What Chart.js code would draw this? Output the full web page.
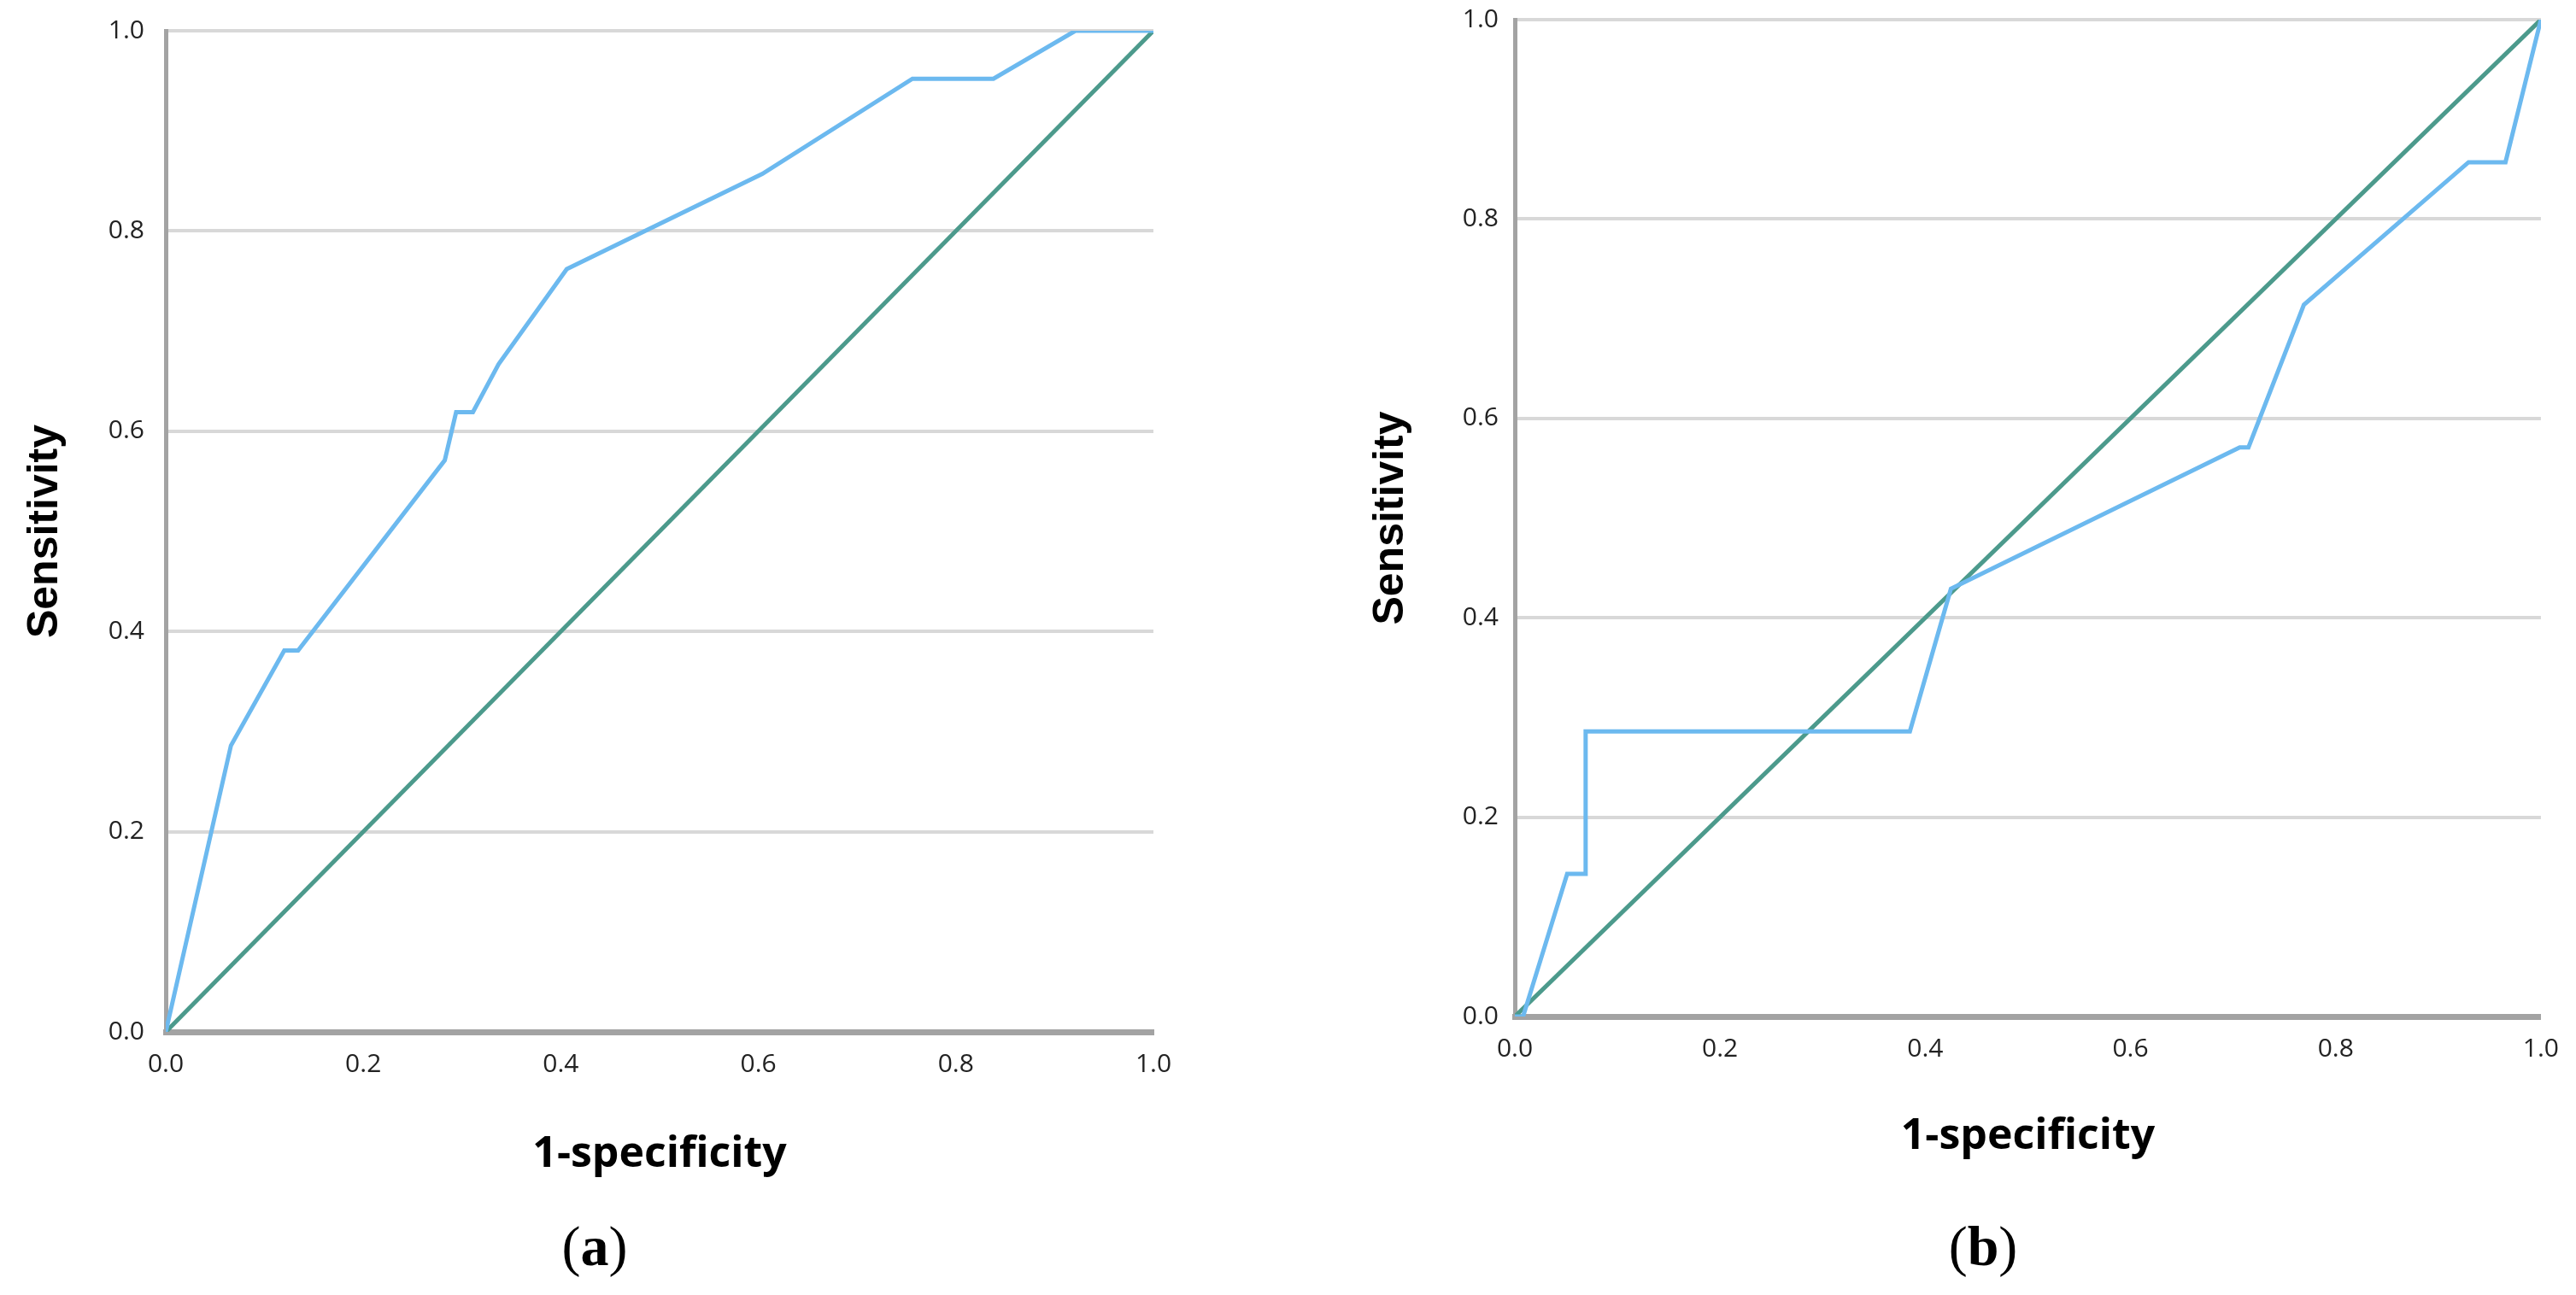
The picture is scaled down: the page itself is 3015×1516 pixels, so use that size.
<!DOCTYPE html>
<html>
<head>
<meta charset="utf-8">
<script src="https://cdn.jsdelivr.net/npm/chart.js@4.4.0/dist/chart.umd.min.js"></script>
<style>
  body { margin: 0; background: #fff; width: 3015px; height: 1516px; position: relative; overflow: hidden; }
  .box { position: absolute; height: 1400px; }
  .tag { position: absolute; font-family: "Liberation Serif", serif; font-size: 66px; transform: translate(-50%, -50%); color: #000; }
</style>
</head>
<body>
<div class="box" style="left:0;top:-7px;width:1400px"><canvas id="rocA"></canvas></div>
<div class="box" style="left:1560px;top:-14px;width:1455px"><canvas id="rocB"></canvas></div>
<div class="tag" style="left:696px;top:1459px">(<b>a</b>)</div>
<div class="tag" style="left:2321px;top:1459px">(<b>b</b>)</div>
<script>
// values
var fprA = [0, 0.066, 0.12, 0.134, 0.2825, 0.294, 0.311, 0.337, 0.406, 0.604, 0.756, 0.838, 0.921, 1];
var tprA = [0, 0.286, 0.381, 0.381, 0.571, 0.619, 0.619, 0.667, 0.762, 0.857, 0.952, 0.952, 1, 1];

var fprB = [0, 0.008, 0.051, 0.069, 0.069, 0.385, 0.425, 0.7065, 0.715, 0.769, 0.9295, 0.9655, 1];
var tprB = [0, 0, 0.143, 0.143, 0.286, 0.286, 0.429, 0.571, 0.571, 0.714, 0.857, 0.857, 1];

var refX = [0, 1];
var refY = [0, 1];

var tickValues = [0, 0.2, 0.4, 0.6, 0.8, 1.0];
var xTitle = '1-specificity';
var yTitle = 'Sensitivity';

function pts(xs, ys) {
	var out = [];
	for (var i in xs) out.push({x: xs[i], y: ys[i]});
	return out;
}

function makeRoc(id, xs, ys, o) {
	var ctx = document.getElementById(id);
	ctx.width = o.w; ctx.height = 1400;
	return new Chart(ctx, {
		type: 'scatter',
		data: {
			datasets: [
				{ data: pts(xs, ys), showLine: true, borderColor: '#6cb9ef', borderWidth: 5, pointRadius: 0, tension: 0 },
				{ data: pts(refX, refY), showLine: true, borderColor: '#4c9a8c', borderWidth: 5, pointRadius: 0, tension: 0 }
			]
		},
		options: {
			responsive: false,
			animation: false,
			layout: { padding: { top: 0, right: o.right, left: 0, bottom: 0 } },
			plugins: { legend: { display: false }, tooltip: { enabled: false } },
			scales: {
				x: {
					type: 'linear', min: 0, max: 1,
					afterBuildTicks: function(s) { s.ticks = tickValues.map(function(v){ return {value: v}; }); },
					afterFit: function(s) { s.height = o.xh; },
					grid: { display: false, drawTicks: false },
					border: { display: true, color: '#a3a3a3', width: 7 },
					ticks: { padding: 20, color: '#222', font: { family: 'Open Sans', size: 30 }, callback: function(v){ return v.toFixed(1); } },
					title: { display: true, text: xTitle, color: '#000', padding: { top: 0, bottom: o.xtp }, font: { family: 'Open Sans', size: 50, weight: 'bold' } }
				},
				y: {
					type: 'linear', min: 0, max: 1,
					afterBuildTicks: function(s) { s.ticks = tickValues.map(function(v){ return {value: v}; }); },
					afterFit: function(s) { s.width = o.yw; },
					grid: { color: '#d8d8d8', lineWidth: 4, drawTicks: false },
					border: { display: true, color: '#a3a3a3', width: 5 },
					ticks: { padding: o.ytp, color: '#222', font: { family: 'Open Sans', size: 30 }, callback: function(v){ return v.toFixed(1); } },
					title: { display: true, text: yTitle, color: '#000', padding: { top: o.ttp, bottom: 0 }, font: { family: 'Liberation Sans', size: 50, weight: 'bold' } }
				}
			}
		}
	});
}

makeRoc('rocA', fprA, tprA, { w: 1400, right: 50, xh: 185, yw: 194, ytp: 25, xtp: 11, ttp: 23 });
makeRoc('rocB', fprB, tprB, { w: 1455, right: 28, xh: 196, yw: 213, ytp: 19, xtp: 25, ttp: 38 });
</script>
</body>
</html>
